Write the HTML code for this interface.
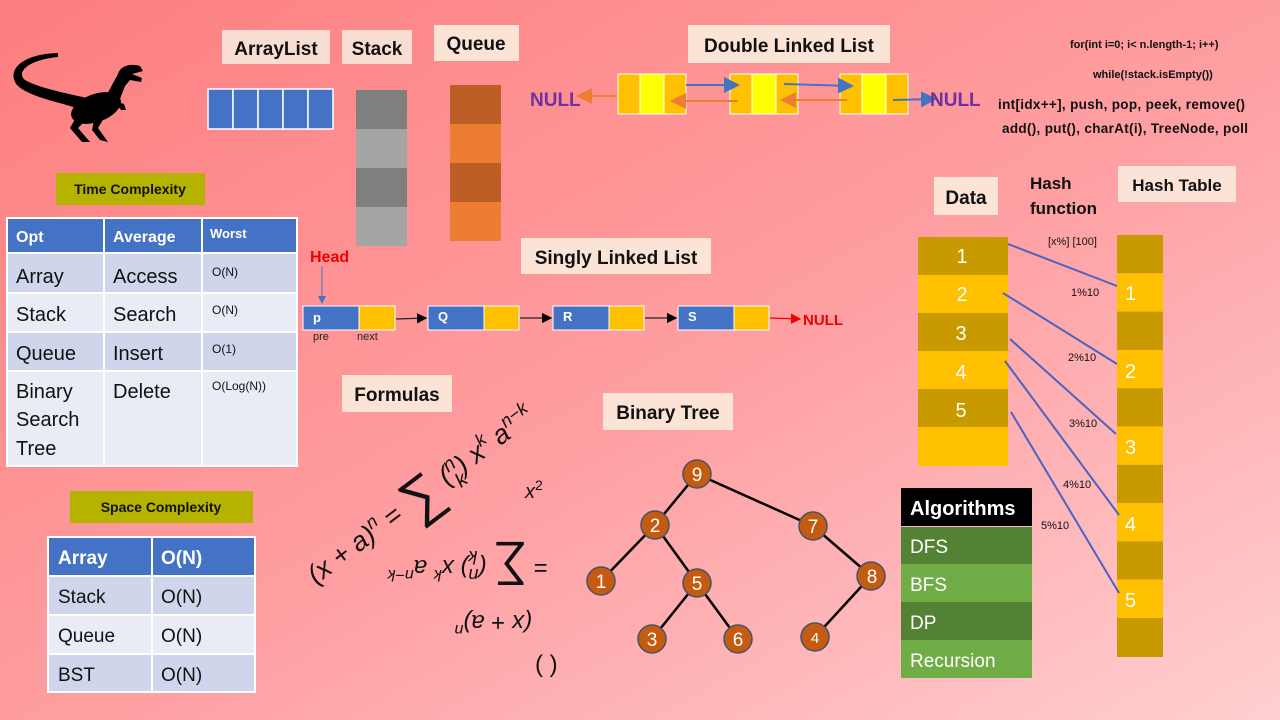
<!DOCTYPE html>
<html><head><meta charset="utf-8"><style>
html,body{margin:0;padding:0;width:1280px;height:720px;overflow:hidden}
svg{display:block}
text{font-family:"Liberation Sans",sans-serif}
</style></head><body>
<svg width="1280" height="720" viewBox="0 0 1280 720" xmlns="http://www.w3.org/2000/svg">
<defs>
<linearGradient id="bg" x1="0" y1="0" x2="1" y2="1">
<stop offset="0" stop-color="#fd7e7e"/><stop offset="0.55" stop-color="#fea0a3"/><stop offset="1" stop-color="#ffcfd1"/>
</linearGradient>
<marker id="ab" markerWidth="8" markerHeight="8" refX="7" refY="4" orient="auto"><path d="M0,0 L8,4 L0,8z" fill="#4472c4"/></marker>
<marker id="ao" markerWidth="8" markerHeight="8" refX="7" refY="4" orient="auto"><path d="M0,0 L8,4 L0,8z" fill="#ed7d31"/></marker>
<marker id="ak" markerWidth="8" markerHeight="8" refX="7" refY="4" orient="auto"><path d="M0,0 L8,4 L0,8z" fill="#000"/></marker>
<marker id="ar" markerWidth="8" markerHeight="8" refX="7" refY="4" orient="auto"><path d="M0,0 L8,4 L0,8z" fill="#e00"/></marker>
</defs>
<rect width="1280" height="720" fill="url(#bg)"/>

<!-- dino -->
<g fill="#000">
<path d="M58,53 C22,54 6,70 17,85 C30,98 62,102 88,112 L96,100 C70,94 38,88 25,80 C16,72 28,60 58,57 Z"/>
<ellipse cx="96" cy="108" rx="26" ry="14" transform="rotate(-20 96 108)"/>
<path d="M105,98 L118,74 C120,66 130,63 140,66 L143,71 L132,74 L142,78 L141,82 L130,80 L125,86 L118,104 Z"/>
<path d="M112,100 L124,104 L126,110 L121,110 L118,106 L110,106 Z"/>
<path d="M78,114 L70,128 L82,142 L90,142 L78,128 L88,118 Z"/>
<path d="M95,116 L92,130 L100,140 L108,142 L98,128 L104,118 Z"/>
</g>

<!-- labels -->
<g font-weight="bold" fill="#111">
<rect x="222" y="30" width="108" height="34" fill="#f8ddd2"/><text x="276" y="55" font-size="19" text-anchor="middle">ArrayList</text>
<rect x="342" y="30" width="70" height="34" fill="#f8ddd2"/><text x="377" y="55" font-size="19" text-anchor="middle">Stack</text>
<rect x="434" y="25" width="85" height="36" fill="#fbe3d6"/><text x="476" y="50" font-size="19" text-anchor="middle">Queue</text>
<rect x="688" y="25" width="202" height="38" fill="#fbe3d6"/><text x="789" y="52" font-size="19" text-anchor="middle">Double Linked List</text>
<rect x="521" y="238" width="190" height="36" fill="#fbe3d6"/><text x="616" y="264" font-size="19" text-anchor="middle">Singly Linked List</text>
<rect x="342" y="375" width="110" height="37" fill="#fbe3d6"/><text x="397" y="401" font-size="19" text-anchor="middle">Formulas</text>
<rect x="603" y="393" width="130" height="37" fill="#fbe3d6"/><text x="668" y="419" font-size="19" text-anchor="middle">Binary Tree</text>
<rect x="934" y="177" width="64" height="38" fill="#fbe3d6"/><text x="966" y="204" font-size="19" text-anchor="middle">Data</text>
<text x="1030" y="189" font-size="17">Hash</text><text x="1030" y="214" font-size="17">function</text>
<rect x="1118" y="166" width="118" height="36" fill="#fbe3d6"/><text x="1177" y="191" font-size="17" text-anchor="middle">Hash Table</text>
<rect x="56" y="173" width="149" height="32" fill="#b5b300"/><text x="130" y="194" font-size="14" text-anchor="middle">Time Complexity</text>
<rect x="70" y="491" width="183" height="32" fill="#b5b300"/><text x="161" y="512" font-size="14" text-anchor="middle">Space Complexity</text>
</g>

<!-- array -->
<g stroke="#fff" stroke-width="1.5" fill="#4472c4">
<rect x="208" y="89" width="25" height="40"/><rect x="233" y="89" width="25" height="40"/><rect x="258" y="89" width="25" height="40"/><rect x="283" y="89" width="25" height="40"/><rect x="308" y="89" width="25" height="40"/>
</g>
<rect x="356" y="90" width="51" height="39" fill="#7f7f7f"/><rect x="356" y="129" width="51" height="39" fill="#a5a5a5"/><rect x="356" y="168" width="51" height="39" fill="#7f7f7f"/><rect x="356" y="207" width="51" height="39" fill="#a5a5a5"/>
<rect x="450" y="85" width="51" height="39" fill="#bd5e26"/><rect x="450" y="124" width="51" height="39" fill="#ed7d31"/><rect x="450" y="163" width="51" height="39" fill="#bd5e26"/><rect x="450" y="202" width="51" height="39" fill="#ed7d31"/>

<!-- DLL -->
<g stroke="#fff" stroke-width="1">
<rect x="618" y="74" width="22" height="40" fill="#ffc000"/><rect x="640" y="74" width="24" height="40" fill="#ffff00"/><rect x="664" y="74" width="22" height="40" fill="#ffc000"/>
<rect x="730" y="74" width="22" height="40" fill="#ffc000"/><rect x="752" y="74" width="24" height="40" fill="#ffff00"/><rect x="776" y="74" width="22" height="40" fill="#ffc000"/>
<rect x="840" y="74" width="22" height="40" fill="#ffc000"/><rect x="862" y="74" width="24" height="40" fill="#ffff00"/><rect x="886" y="74" width="22" height="40" fill="#ffc000"/>
</g>
<g stroke-width="2">
<line x1="686" y1="85" x2="738" y2="85" stroke="#4472c4" marker-end="url(#ab)"/>
<line x1="784" y1="84" x2="852" y2="86" stroke="#4472c4" marker-end="url(#ab)"/>
<line x1="893" y1="100" x2="935" y2="99" stroke="#4472c4" marker-end="url(#ab)"/>
<line x1="738" y1="101" x2="672" y2="101" stroke="#ed7d31" marker-end="url(#ao)"/>
<line x1="847" y1="100" x2="782" y2="100" stroke="#ed7d31" marker-end="url(#ao)"/>
<line x1="617" y1="96" x2="578" y2="96" stroke="#ed7d31" marker-end="url(#ao)"/>
</g>
<g font-weight="bold" fill="#7030a0" font-size="19"><text x="530" y="106">NULL</text><text x="930" y="106">NULL</text></g>

<g font-weight="bold" fill="#111">
<text x="1070" y="48" font-size="11">for(int i=0; i&lt; n.length-1; i++)</text>
<text x="1093" y="78" font-size="11">while(!stack.isEmpty())</text>
<text x="998" y="109" font-size="13.5" textLength="247">int[idx++], push, pop, peek, remove()</text>
<text x="1002" y="133" font-size="13.5" textLength="246">add(), put(), charAt(i), TreeNode, poll</text>
</g>

<!-- SLL -->
<text x="310" y="262" font-size="16" font-weight="bold" fill="#e00">Head</text>
<line x1="322" y1="266" x2="322" y2="303" stroke="#4472c4" stroke-width="1" marker-end="url(#ab)"/>
<g stroke="#fff" stroke-width="1">
<rect x="303" y="306" width="56" height="24" fill="#4472c4"/><rect x="359" y="306" width="36" height="24" fill="#ffc000"/>
<rect x="428" y="306" width="56" height="24" fill="#4472c4"/><rect x="484" y="306" width="35" height="24" fill="#ffc000"/>
<rect x="553" y="306" width="56" height="24" fill="#4472c4"/><rect x="609" y="306" width="35" height="24" fill="#ffc000"/>
<rect x="678" y="306" width="56" height="24" fill="#4472c4"/><rect x="734" y="306" width="35" height="24" fill="#ffc000"/>
</g>
<g font-weight="bold" fill="#fff" font-size="13"><text x="313" y="322">p</text><text x="438" y="321">Q</text><text x="563" y="321">R</text><text x="688" y="321">S</text></g>
<g stroke="#222" stroke-width="1.3">
<line x1="396" y1="319" x2="426" y2="318" marker-end="url(#ak)"/>
<line x1="520" y1="318" x2="551" y2="318" marker-end="url(#ak)"/>
<line x1="645" y1="318" x2="676" y2="318" marker-end="url(#ak)"/>
<line x1="770" y1="318" x2="800" y2="319" stroke="#e00" marker-end="url(#ar)"/>
</g>
<text x="803" y="325" font-size="15" font-weight="bold" fill="#e00">NULL</text>
<g font-size="11" fill="#222"><text x="313" y="340">pre</text><text x="357" y="340">next</text></g>

<!-- time table -->
<g stroke="#fff" stroke-width="2">
<rect x="7" y="218" width="97" height="35" fill="#4472c4"/><rect x="104" y="218" width="98" height="35" fill="#4472c4"/><rect x="202" y="218" width="95" height="35" fill="#4472c4"/>
<rect x="7" y="253" width="97" height="40" fill="#cfd5ea"/><rect x="104" y="253" width="98" height="40" fill="#cfd5ea"/><rect x="202" y="253" width="95" height="40" fill="#cfd5ea"/>
<rect x="7" y="293" width="97" height="39" fill="#e9ebf5"/><rect x="104" y="293" width="98" height="39" fill="#e9ebf5"/><rect x="202" y="293" width="95" height="39" fill="#e9ebf5"/>
<rect x="7" y="332" width="97" height="39" fill="#cfd5ea"/><rect x="104" y="332" width="98" height="39" fill="#cfd5ea"/><rect x="202" y="332" width="95" height="39" fill="#cfd5ea"/>
<rect x="7" y="371" width="97" height="95" fill="#e9ebf5"/><rect x="104" y="371" width="98" height="95" fill="#e9ebf5"/><rect x="202" y="371" width="95" height="95" fill="#e9ebf5"/>
</g>
<g font-weight="bold" fill="#fff"><text x="16" y="242" font-size="16">Opt</text><text x="113" y="242" font-size="16">Average</text><text x="210" y="238" font-size="13">Worst</text></g>
<g fill="#111" font-size="20">
<text x="16" y="283">Array</text><text x="113" y="283">Access</text>
<text x="16" y="321">Stack</text><text x="113" y="321">Search</text>
<text x="16" y="360">Queue</text><text x="113" y="360">Insert</text>
<text x="16" y="398">Binary</text><text x="16" y="426">Search</text><text x="16" y="455">Tree</text><text x="113" y="398">Delete</text>
</g>
<g fill="#111" font-size="12"><text x="212" y="276">O(N)</text><text x="212" y="314">O(N)</text><text x="212" y="353">O(1)</text><text x="212" y="390">O(Log(N))</text></g>

<!-- space table -->
<g stroke="#fff" stroke-width="2">
<rect x="48" y="537" width="104" height="39" fill="#4472c4"/><rect x="152" y="537" width="103" height="39" fill="#4472c4"/>
<rect x="48" y="576" width="104" height="39" fill="#cfd5ea"/><rect x="152" y="576" width="103" height="39" fill="#cfd5ea"/>
<rect x="48" y="615" width="104" height="39" fill="#e9ebf5"/><rect x="152" y="615" width="103" height="39" fill="#e9ebf5"/>
<rect x="48" y="654" width="104" height="38" fill="#cfd5ea"/><rect x="152" y="654" width="103" height="38" fill="#cfd5ea"/>
</g>
<g font-weight="bold" fill="#fff" font-size="19"><text x="58" y="564">Array</text><text x="161" y="564">O(N)</text></g>
<g fill="#111" font-size="19"><text x="58" y="603">Stack</text><text x="161" y="603">O(N)</text><text x="58" y="642">Queue</text><text x="161" y="642">O(N)</text><text x="58" y="681">BST</text><text x="161" y="681">O(N)</text></g>

<!-- formulas -->
<g font-family="Liberation Serif" font-style="italic" fill="#111">
<text transform="translate(316,585) rotate(-37)" font-size="27">(x + a)<tspan dy="-11" font-size="18">n</tspan><tspan dy="11"> = </tspan><tspan font-style="normal" font-size="54" dy="10">∑</tspan><tspan dy="-10"> (</tspan><tspan font-size="20" dy="-10">n</tspan><tspan font-size="20" dx="-10" dy="20">k</tspan><tspan dy="-10">) x</tspan><tspan dy="-11" font-size="18">k</tspan><tspan dy="11"> a</tspan><tspan dy="-11" font-size="18">n−k</tspan></text>
<text x="525" y="498" font-size="20">x<tspan dy="-8" font-size="14" font-style="normal">2</tspan></text>
<text transform="translate(548,560) rotate(180)" font-size="24">= <tspan font-style="normal" font-size="48" dy="8">∑</tspan><tspan dy="-8"> (</tspan><tspan font-size="18" dy="-9">n</tspan><tspan font-size="18" dx="-9" dy="18">k</tspan><tspan dy="-9">) x</tspan><tspan dy="-10" font-size="16">k</tspan><tspan dy="10"> a</tspan><tspan dy="-10" font-size="16">n−k</tspan></text>
<text transform="translate(532,615) rotate(180)" font-size="24">(x + a)<tspan dy="-10" font-size="16">n</tspan></text>
<text x="535" y="672" font-size="24" font-style="normal">(    )</text>
</g>

<!-- binary tree -->
<g stroke="#000" stroke-width="2.5">
<line x1="697" y1="474" x2="655" y2="525"/><line x1="697" y1="474" x2="813" y2="526"/>
<line x1="655" y1="525" x2="601" y2="581"/><line x1="655" y1="525" x2="697" y2="583"/>
<line x1="813" y1="526" x2="871" y2="576"/><line x1="697" y1="583" x2="652" y2="639"/>
<line x1="697" y1="583" x2="738" y2="639"/><line x1="871" y1="576" x2="815" y2="637"/>
</g>
<g fill="#c55a11" stroke="#44546a" stroke-width="1.5">
<circle cx="697" cy="474" r="14"/><circle cx="655" cy="525" r="14"/><circle cx="813" cy="526" r="14"/><circle cx="601" cy="581" r="14"/><circle cx="697" cy="583" r="14"/><circle cx="871" cy="576" r="14"/><circle cx="652" cy="639" r="14"/><circle cx="738" cy="639" r="14"/><circle cx="815" cy="637" r="14"/>
</g>
<g fill="#fff" font-size="19" text-anchor="middle">
<text x="697" y="481">9</text><text x="655" y="532">2</text><text x="813" y="533">7</text><text x="601" y="588">1</text><text x="697" y="590">5</text><text x="872" y="583">8</text><text x="652" y="646">3</text><text x="738" y="646">6</text><text x="815" y="643" font-size="15">4</text>
</g>

<!-- data column -->
<rect x="918" y="237" width="90" height="38" fill="#c99a00"/><rect x="918" y="275" width="90" height="38" fill="#ffc000"/><rect x="918" y="313" width="90" height="38" fill="#c99a00"/><rect x="918" y="351" width="90" height="38" fill="#ffc000"/><rect x="918" y="389" width="90" height="38" fill="#c99a00"/><rect x="918" y="427" width="90" height="39" fill="#ffc000"/>
<g fill="#fff" font-size="20" text-anchor="middle"><text x="962" y="263">1</text><text x="962" y="301">2</text><text x="961" y="340">3</text><text x="961" y="379">4</text><text x="961" y="417">5</text></g>
<g>
<rect x="1117" y="235" width="46" height="38.3" fill="#c99a00"/><rect x="1117" y="273.3" width="46" height="38.3" fill="#ffc000"/>
<rect x="1117" y="311.6" width="46" height="38.3" fill="#c99a00"/><rect x="1117" y="349.9" width="46" height="38.3" fill="#ffc000"/>
<rect x="1117" y="388.2" width="46" height="38.3" fill="#c99a00"/><rect x="1117" y="426.5" width="46" height="38.3" fill="#ffc000"/>
<rect x="1117" y="464.8" width="46" height="38.3" fill="#c99a00"/><rect x="1117" y="503.1" width="46" height="38.3" fill="#ffc000"/>
<rect x="1117" y="541.4" width="46" height="38.3" fill="#c99a00"/><rect x="1117" y="579.7" width="46" height="38.3" fill="#ffc000"/>
<rect x="1117" y="618" width="46" height="39" fill="#c99a00"/>
</g>
<g fill="#fff" font-size="20"><text x="1125" y="300">1</text><text x="1125" y="378">2</text><text x="1125" y="454">3</text><text x="1125" y="531">4</text><text x="1125" y="607">5</text></g>
<g stroke="#4a64c0" stroke-width="2">
<line x1="1008" y1="244" x2="1117" y2="286"/><line x1="1003" y1="293" x2="1117" y2="364"/><line x1="1010" y1="339" x2="1116" y2="434"/><line x1="1005" y1="361" x2="1119" y2="515"/><line x1="1011" y1="412" x2="1119" y2="593"/>
</g>
<g font-size="11" fill="#111"><text x="1048" y="245">[x%] [100]</text><text x="1071" y="296">1%10</text><text x="1068" y="361">2%10</text><text x="1069" y="427">3%10</text><text x="1063" y="488">4%10</text><text x="1041" y="529">5%10</text></g>

<!-- algorithms -->
<rect x="901" y="488" width="131" height="38" fill="#000"/>
<rect x="901" y="527" width="131" height="37" fill="#548235"/><rect x="901" y="564" width="131" height="38" fill="#70ad47"/><rect x="901" y="602" width="131" height="38" fill="#548235"/><rect x="901" y="640" width="131" height="38" fill="#70ad47"/>
<text x="910" y="515" font-size="20" font-weight="bold" fill="#fff">Algorithms</text>
<g fill="#fff" font-size="19"><text x="910" y="553">DFS</text><text x="910" y="591">BFS</text><text x="910" y="629">DP</text><text x="910" y="667">Recursion</text></g>
</svg>
</body></html>
